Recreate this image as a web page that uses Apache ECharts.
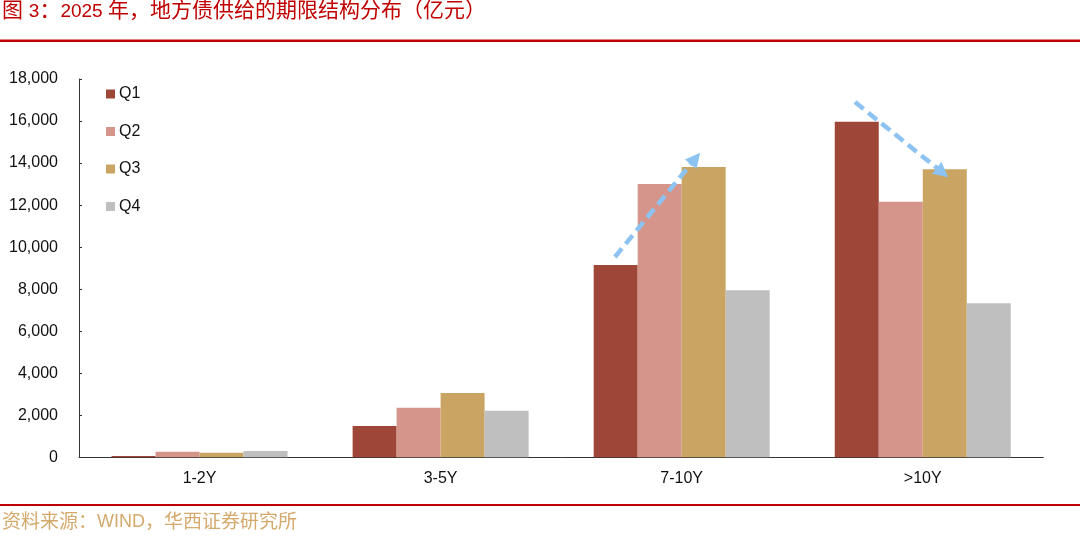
<!DOCTYPE html>
<html><head><meta charset="utf-8">
<script src="https://cdn.jsdelivr.net/npm/echarts@6/dist/echarts.min.js"></script>
<style>html,body{margin:0;padding:0;background:#fff}#c{width:1080px;height:536px}</style>
</head><body><div id="c"></div>
<script>
const categories = ['1-2Y', '3-5Y', '7-10Y', '>10Y'];
const seriesNames = ['Q1', 'Q2', 'Q3', 'Q4'];
const q1 = [60, 1490, 9150, 15970];
const q2 = [265, 2360, 13000, 12160];
const q3 = [220, 3060, 13810, 13700];
const q4 = [300, 2220, 7950, 7330];
const colors = ['#9E4637', '#D6958A', '#C9A462', '#BFBFBF'];
// trend arrows: [start, end] as [category position (0-4), value]
const arrowUp = [[2.223, 9530], [2.557, 14220]];
const arrowDown = [[3.219, 16900], [3.582, 13550]];

const titleText = '{c|图 }{l|3}{c|：}{l|2025 }{c|年，地方债供给的期限结构分布（亿元）}';
const sourceText = '{c|资料来源：}{l|WIND}{c|，华西证券研究所}';
const FONT = '"Liberation Sans", Arial, "Noto Sans CJK SC", sans-serif';

const chart = echarts.init(document.getElementById('c'));
const values = [q1, q2, q3, q4];
chart.setOption({
  backgroundColor: '#fff',
  animation: false,
  title: {
    text: titleText, left: 2, top: 1, padding: 0,
    textStyle: {
      color: '#C00000', fontSize: 19, fontWeight: 'normal', fontFamily: FONT,
      rich: {
        c: { fontSize: 21, color: '#C00000', fontFamily: FONT },
        l: { fontSize: 19, color: '#C00000', fontFamily: FONT }
      }
    }
  },
  graphic: [
    { type: 'rect', shape: { x: 0, y: 39.5, width: 1080, height: 2.5 }, style: { fill: '#C00000' } },
    { type: 'rect', shape: { x: 0, y: 504, width: 1080, height: 2 }, style: { fill: '#C00000' } },
    {
      type: 'text', left: 2, top: 513,
      style: {
        text: sourceText, fill: '#D4A96C', fontSize: 18, fontFamily: FONT,
        rich: {
          c: { fontSize: 19, fill: '#D4A96C', fontFamily: FONT },
          l: { fontSize: 18, fill: '#D4A96C', fontFamily: FONT }
        }
      }
    }
  ],
  legend: {
    data: seriesNames, orient: 'vertical', left: 106, top: 86, padding: 0,
    itemWidth: 9, itemHeight: 9, itemGap: 21.5, icon: 'rect',
    textStyle: { fontSize: 16, color: '#111', fontFamily: FONT, padding: [0, 0, 0, -1] }
  },
  grid: { left: 79, right: 36.7, top: 79, bottom: 78.7, containLabel: false },
  xAxis: [
    {
      type: 'category', data: categories,
      axisLine: { lineStyle: { color: '#333', width: 1 } },
      axisTick: { inside: true, length: 4, lineStyle: { color: '#333' } },
      axisLabel: { fontSize: 16, color: '#111', margin: 13, fontFamily: FONT }
    },
    { type: 'value', min: 0, max: 4, show: false }
  ],
  yAxis: {
    type: 'value', min: 0, max: 18000, interval: 2000,
    splitLine: { show: false },
    axisLine: { show: true, lineStyle: { color: '#333', width: 1 } },
    axisTick: { show: true, inside: true, length: 3, lineStyle: { color: '#333' } },
    axisLabel: {
      fontSize: 16, color: '#111', margin: 21, fontFamily: FONT,
      formatter: v => v.toLocaleString('en-US')
    }
  },
  series: seriesNames.map((n, i) => ({
    name: n, type: 'bar', data: values[i], barGap: '0%', barCategoryGap: '27%',
    itemStyle: { color: colors[i] }
  })).concat([{
    type: 'lines', coordinateSystem: 'cartesian2d', xAxisIndex: 1, yAxisIndex: 0,
    symbol: ['none', 'none'], silent: true, z: 3,
    lineStyle: { color: '#8DC3F2', width: 4.5, type: [11, 6], opacity: 1 },
    data: [{ coords: arrowUp }, { coords: arrowDown }]
  }, {
    type: 'lines', coordinateSystem: 'cartesian2d', xAxisIndex: 1, yAxisIndex: 0,
    symbol: ['none', 'triangle'], symbolSize: [15, 15], silent: true, z: 4,
    lineStyle: { color: '#8DC3F2', width: 0, type: 'solid', opacity: 1 },
    data: [{ coords: arrowUp }, { coords: arrowDown }]
  }])
});
</script>
</body></html>
